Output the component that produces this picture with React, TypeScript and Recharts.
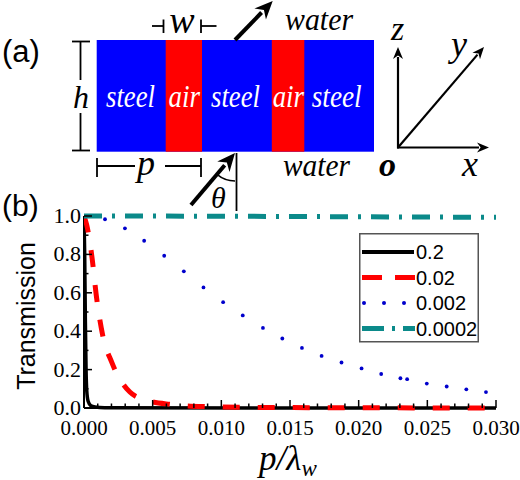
import React from 'react';
import { LineChart, Line, XAxis, YAxis, Legend } from 'recharts';

// ---- data ----
const seriesNames = ['0.2', '0.02', '0.002', '0.0002'];

const blackX = [0, 0.00005, 0.0001, 0.00015, 0.0002, 0.0003, 0.0005, 0.0008, 0.0015, 0.03];
const blackY = [1, 0.8, 0.45, 0.2, 0.09, 0.035, 0.012, 0.005, 0.001, 0];

const redX = [0, 0.0002, 0.00056, 0.00092, 0.00136, 0.00201, 0.00334, 0.00407, 0.00625, 0.0089, 0.012, 0.03];
const redY = [1, 0.953, 0.797, 0.572, 0.379, 0.24, 0.083, 0.051, 0.019, 0.007, 0.003, 0];

const blueX = [0, 0.00153, 0.00298, 0.00438, 0.00584, 0.00727, 0.0087, 0.01013, 0.01156, 0.01303, 0.01444,
  0.01587, 0.0173, 0.01875, 0.02021, 0.02164, 0.02304, 0.02353, 0.02496, 0.02641, 0.02784, 0.02927];
const blueY = [0.996, 0.983, 0.936, 0.871, 0.793, 0.712, 0.628, 0.551, 0.482, 0.417, 0.362,
  0.313, 0.271, 0.237, 0.206, 0.177, 0.155, 0.15, 0.127, 0.112, 0.0975, 0.083];

const tealX = [0, 0.01, 0.02, 0.03];
const tealY = [1, 0.999, 0.996, 0.993];

const xMajorTicks = [0, 0.005, 0.01, 0.015, 0.02, 0.025, 0.03];
const xAllTicks = [0, 0.001, 0.002, 0.003, 0.004, 0.005, 0.006, 0.007, 0.008, 0.009, 0.01, 0.011, 0.012, 0.013,
  0.014, 0.015, 0.016, 0.017, 0.018, 0.019, 0.02, 0.021, 0.022, 0.023, 0.024, 0.025, 0.026, 0.027, 0.028, 0.029, 0.03];
const yMajorTicks = [0, 0.2, 0.4, 0.6, 0.8, 1.0];
const yAllTicks = [0, 0.1, 0.2, 0.3, 0.4, 0.5, 0.6, 0.7, 0.8, 0.9, 1.0];

const zip = (xs: number[], ys: number[]) => xs.map((x, i) => ({ x, y: ys[i] }));
const blackData = zip(blackX, blackY);
const redData = zip(redX, redY);
const blueData = zip(blueX, blueY);
const tealData = zip(tealX, tealY);

const COLORS = { black: '#000000', red: '#ff0000', blue: '#0000cc', teal: '#0b8a8a' };

const SERIF_FAMILY = 'Liberation Serif';
const SANS_FAMILY = 'Liberation Sans';

const isMajor = (v: number, list: number[]) => list.some((t) => Math.abs(t - v) < 1e-9);

const XTick = (props: any) => {
  const { x, y, payload } = props;
  const v = payload.value as number;
  const major = isMajor(v, xMajorTicks);
  return (
    <g>
      <line x1={x} x2={x} y1={y} y2={y - (major ? 8 : 4.5)} stroke="#000" strokeWidth={1.5} />
      {major && (
        <text x={x} y={y + 27} textAnchor="middle" fontFamily={SERIF_FAMILY} style={{ fontFamily: SERIF_FAMILY }} fontSize={21} fill="#000">
          {v.toFixed(3)}
        </text>
      )}
    </g>
  );
};

const YTick = (props: any) => {
  const { x, y, payload } = props;
  const v = payload.value as number;
  const major = isMajor(v, yMajorTicks);
  return (
    <g>
      <line x1={x} x2={x + (major ? 8 : 4.5)} y1={y} y2={y} stroke="#000" strokeWidth={1.5} />
      {major && (
        <text x={x - 3} y={y + 7} textAnchor="end" fontFamily={SERIF_FAMILY} style={{ fontFamily: SERIF_FAMILY }} fontSize={22} fill="#000">
          {v.toFixed(1)}
        </text>
      )}
    </g>
  );
};

const renderLegend = () => {
  const rows = [
    { color: COLORS.black, kind: 'solid' },
    { color: COLORS.red, kind: 'dash' },
    { color: COLORS.blue, kind: 'dot' },
    { color: COLORS.teal, kind: 'dashdot' },
  ];
  return (
    <svg width={120} height={110} style={{ display: 'block' }}>
      <rect x={0.75} y={0.75} width={118.5} height={108} fill="#fff" stroke="#555" strokeWidth={1.5} />
      {rows.map((r, i) => {
        const cy = 19 + i * 25.5;
        let sample: React.ReactNode = null;
        if (r.kind === 'solid') sample = <line x1={3} x2={55} y1={cy} y2={cy} stroke={r.color} strokeWidth={4} />;
        if (r.kind === 'dash') sample = <line x1={3} x2={56} y1={cy} y2={cy} stroke={r.color} strokeWidth={5} strokeDasharray="20 13" />;
        if (r.kind === 'dot')
          sample = (
            <g>
              {[5, 25, 45].map((cx) => (
                <circle key={cx} cx={cx} cy={cy} r={2} fill={r.color} />
              ))}
            </g>
          );
        if (r.kind === 'dashdot') sample = <line x1={3} x2={56} y1={cy} y2={cy} stroke={r.color} strokeWidth={5} strokeDasharray="22 8 3 8" />;
        return (
          <g key={i}>
            {sample}
            <text x={57} y={cy + 7} fontFamily={SANS_FAMILY} fontSize={20} fill="#000">
              {seriesNames[i]}
            </text>
          </g>
        );
      })}
    </svg>
  );
};

function Arrow({ x1, y1, x2, y2, head, half, sw }: any) {
  const dx = x2 - x1;
  const dy = y2 - y1;
  const L = Math.hypot(dx, dy);
  const ux = dx / L;
  const uy = dy / L;
  const bx = x2 - ux * head;
  const by = y2 - uy * head;
  const nx = -uy;
  const ny = ux;
  const nb = 0.3 * head;
  return (
    <g>
      <line x1={x1} y1={y1} x2={bx + ux * 2} y2={by + uy * 2} stroke="#000" strokeWidth={sw} />
      <polygon
        points={`${x2},${y2} ${bx + nx * half},${by + ny * half} ${bx + ux * nb},${by + uy * nb} ${bx - nx * half},${by - ny * half}`}
        fill="#000"
      />
    </g>
  );
}

function Label({ x, y, size, children, color = '#000', italic = true, bold = false, len, anchor }: any) {
  return (
    <text
      x={x}
      y={y}
      fontSize={size}
      fill={color}
      fontFamily={SERIF_FAMILY}
      style={{ fontFamily: SERIF_FAMILY, fontStyle: italic ? 'italic' : 'normal', fontWeight: bold ? 'bold' : 'normal' }}
      textLength={len}
      lengthAdjust={len ? 'spacingAndGlyphs' : undefined}
      textAnchor={anchor}
    >
      {children}
    </text>
  );
}

const Schematic = () => (
  <svg width={520} height={480} style={{ position: 'absolute', left: 0, top: 0, pointerEvents: 'none' }}>
    <text x={2} y={62} fontFamily={SANS_FAMILY} fontSize={31} fill="#000">(a)</text>
    <text x={2} y={216} fontFamily={SANS_FAMILY} fontSize={30} fill="#000">(b)</text>

    {/* layers */}
    <rect x={96.7} y={40} width={277.3} height={111.7} fill="#0000ff" />
    <rect x={165.7} y={40} width={36.3} height={111.7} fill="#ff0000" />
    <rect x={271.8} y={40} width={32.5} height={111.7} fill="#ff0000" />
    <Label x={106} y={107} size={31} color="#fff" len={49}>steel</Label>
    <Label x={168.5} y={107} size={31} color="#fff" len={31.5}>air</Label>
    <Label x={211} y={107} size={31} color="#fff" len={49}>steel</Label>
    <Label x={272.7} y={107} size={31} color="#fff" len={31.3}>air</Label>
    <Label x={311.7} y={107} size={31} color="#fff" len={50}>steel</Label>

    <Label x={285} y={30} size={32} len={68}>water</Label>
    <Label x={283} y={176} size={32} len={67}>water</Label>
    <Label x={73} y={108} size={32}>h</Label>
    <Label x={182} y={33} size={38} anchor="middle">w</Label>
    <Label x={137} y={175} size={36}>p</Label>
    <Label x={211} y={208} size={30}>θ</Label>
    <Label x={391} y={40} size={34}>z</Label>
    <Label x={451} y={56} size={36}>y</Label>
    <Label x={462} y={176} size={36}>x</Label>
    <Label x={379} y={176} size={34} bold>o</Label>

    <g stroke="#000" strokeWidth={1.8}>
      {/* h dimension */}
      <line x1={80.5} x2={80.5} y1={41.5} y2={80} />
      <line x1={80.5} x2={80.5} y1={113} y2={150.5} />
      <line x1={72} x2={90} y1={41.5} y2={41.5} />
      <line x1={72} x2={90} y1={150.5} y2={150.5} />
      {/* w dimension */}
      <line x1={152} x2={163.5} y1={26} y2={26} />
      <line x1={163.5} x2={163.5} y1={19.5} y2={33} />
      <line x1={201} x2={201} y1={19.5} y2={33} />
      <line x1={201} x2={216.5} y1={26} y2={26} />
      {/* p dimension */}
      <line x1={97} x2={97} y1={158} y2={177} />
      <line x1={97} x2={135} y1={166} y2={166} />
      <line x1={165} x2={201} y1={166} y2={166} />
      <line x1={201} x2={201} y1={158} y2={177} />
      {/* normal */}
      <line x1={236.5} x2={236.5} y1={153} y2={211} />
    </g>
    <path d="M 235 181 A 28 28 0 0 1 217 174.4" fill="none" stroke="#000" strokeWidth={1.5} />

    <Arrow x1={235} y1={40} x2={272.7} y2={1} head={18} half={8} sw={4} />
    <Arrow x1={191} y1={205} x2={235} y2={153} head={18} half={8} sw={4} />

    {/* coordinate system */}
    <Arrow x1={398} y1={148.5} x2={398} y2={47} head={12} half={5} sw={2.2} />
    <Arrow x1={397} y1={147.5} x2={489} y2={147.5} head={12} half={5} sw={2.2} />
    <Arrow x1={398} y1={147.5} x2={484} y2={47} head={12} half={5} sw={2.2} />
  </svg>
);

export default function App() {
  return (
    <div style={{ position: 'absolute', left: 0, top: 0, width: 520, height: 480, background: '#fff' }}>
      <LineChart width={520} height={480} margin={{ top: 216, right: 24, left: 0, bottom: 0 }}>
        <XAxis
          dataKey="x"
          type="number"
          domain={[0, 0.03]}
          ticks={xAllTicks}
          interval={0}
          height={72}
          tickSize={0}
          tickMargin={0}
          tick={<XTick />}
          tickLine={false}
          axisLine={{ stroke: '#000', strokeWidth: 2 }}
          allowDataOverflow
          label={{
            content: () => (
              <text x={259} y={470} fontFamily={SERIF_FAMILY} style={{ fontFamily: SERIF_FAMILY }} fontSize={35} fill="#000">
                <tspan fontStyle="italic">p</tspan>
                <tspan fontStyle="italic">/</tspan>
                <tspan fontStyle="italic">λ</tspan>
                <tspan fontStyle="italic" fontSize={23} dy={6}>w</tspan>
              </text>
            ),
          }}
        />
        <XAxis
          xAxisId="top"
          orientation="top"
          type="number"
          domain={[0, 0.03]}
          height={0}
          tick={false}
          tickLine={false}
          axisLine={{ stroke: '#000', strokeWidth: 2 }}
        />
        <YAxis
          type="number"
          domain={[0, 1]}
          ticks={yAllTicks}
          interval={0}
          width={84}
          tickSize={0}
          tickMargin={0}
          tick={<YTick />}
          tickLine={false}
          axisLine={{ stroke: '#000', strokeWidth: 2 }}
          label={{
            content: () => (
              <text
                x={35}
                y={316}
                transform="rotate(-90 35 316)"
                textAnchor="middle"
                fontFamily={SANS_FAMILY}
                fontSize={25}
                fill="#000"
              >
                Transmission
              </text>
            ),
          }}
        />
        <YAxis
          yAxisId="right"
          orientation="right"
          type="number"
          domain={[0, 1]}
          width={0}
          tick={false}
          tickLine={false}
          axisLine={{ stroke: '#000', strokeWidth: 2 }}
        />
        <Legend
          layout="vertical"
          align="center"
          verticalAlign="middle"
          content={renderLegend}
          wrapperStyle={{ position: 'absolute', left: 359, top: 232.5, width: 120, height: 110 }}
        />
        <Line
          name={seriesNames[0]}
          data={blackData}
          dataKey="y"
          type="monotone"
          stroke={COLORS.black}
          strokeWidth={3.5}
          dot={false}
          isAnimationActive={false}
          zIndex={600}
        />
        <Line
          name={seriesNames[1]}
          data={redData}
          dataKey="y"
          type="monotone"
          stroke={COLORS.red}
          strokeWidth={5}
          strokeDasharray="17 18"
          dot={false}
          isAnimationActive={false}
          zIndex={610}
        />
        <Line
          name={seriesNames[2]}
          data={blueData}
          dataKey="y"
          type="monotone"
          stroke="none"
          dot={{ r: 1.9, fill: COLORS.blue, stroke: 'none' }}
          isAnimationActive={false}
          zIndex={620}
        />
        <Line
          name={seriesNames[3]}
          data={tealData}
          dataKey="y"
          type="linear"
          stroke={COLORS.teal}
          strokeWidth={5}
          strokeDasharray="18 10 3 10"
          dot={false}
          isAnimationActive={false}
          zIndex={630}
        />
      </LineChart>
      <Schematic />
    </div>
  );
}
